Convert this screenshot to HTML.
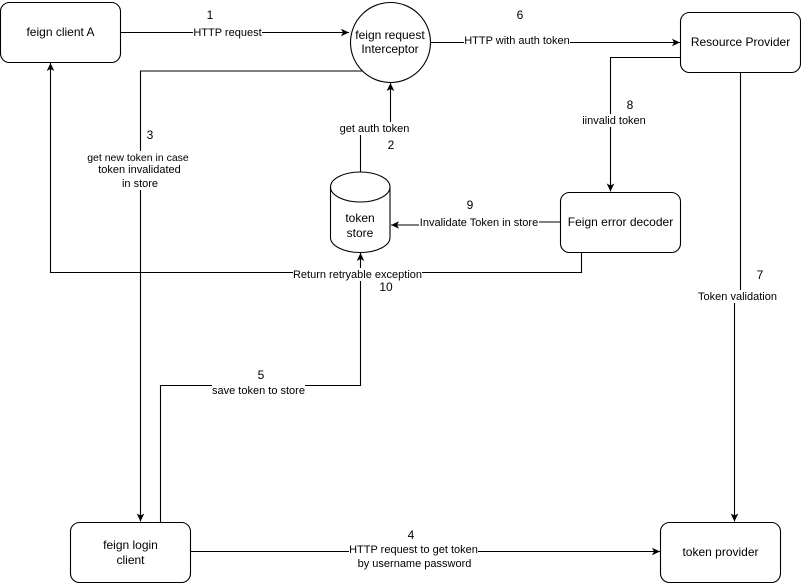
<!DOCTYPE html>
<html>
<head>
<meta charset="utf-8">
<style>
html,body{margin:0;padding:0;background:#fff;}
svg{display:block;}
text{font-family:"Liberation Sans",Arial,sans-serif;fill:#000;}
.n{font-size:12px;text-anchor:middle;}
.l{font-size:11px;text-anchor:middle;}
.b{font-size:12px;text-anchor:middle;}
.bg{fill:#fff;}
</style>
</head>
<body>
<svg width="801" height="583" viewBox="0 0 801 583" xmlns="http://www.w3.org/2000/svg">
<defs>
<marker id="a" markerUnits="userSpaceOnUse" markerWidth="10" markerHeight="10" refX="8" refY="4" orient="auto">
<path d="M0,0.200 L8,4 L0,7.800 L2,4 Z" fill="#000"/>
</marker>
</defs>
<g fill="none" stroke="#000" stroke-width="1.1">
<path d="M120.500 32.500 H349" marker-end="url(#a)"/>
<path d="M430 42.500 H680" marker-end="url(#a)"/>
<path d="M360.500 172 V128 H390.500 V83" marker-end="url(#a)"/>
<path d="M362 71 H140.500 V521.500" marker-end="url(#a)"/>
<path d="M680 57.500 H610.500 V191.500" marker-end="url(#a)"/>
<path d="M560 222 H480 V225 H391" marker-end="url(#a)"/>
<path d="M581.500 252 V272.500 H50.500 V63" marker-end="url(#a)"/>
<path d="M160.500 522 V385.500 H360.500 V253" marker-end="url(#a)"/>
<path d="M190 551.500 H660" marker-end="url(#a)"/>
<path d="M740.500 72 V296 H734.500 V521.500" marker-end="url(#a)"/>
</g>
<g fill="#fff" stroke="#000" stroke-width="1.1">
<rect x="0.500" y="2.500" width="120" height="60" rx="9"/>
<circle cx="390.500" cy="42.500" r="40"/>
<rect x="680.500" y="12.500" width="120" height="60" rx="9"/>
<rect x="560.500" y="192.500" width="120" height="60" rx="9"/>
<rect x="70.500" y="522.500" width="120" height="60" rx="9"/>
<rect x="660.500" y="522.500" width="120" height="60" rx="9"/>
<path d="M330.500 187 A29.750 15 0 0 1 390 187 V237.500 A29.750 15 0 0 1 330.500 237.500 Z"/>
<path d="M330.500 187 A29.750 15 0 0 0 390 187" fill="none"/>
</g>
<text class="b" x="60.500" y="36">feign client A</text>
<text class="b" x="390" y="39">feign request</text>
<text class="b" x="390" y="53">Interceptor</text>
<text class="b" x="740.500" y="46">Resource Provider</text>
<text class="b" x="620.500" y="226">Feign error decoder</text>
<text class="b" x="360" y="222">token</text>
<text class="b" x="360" y="237">store</text>
<text class="b" x="130.500" y="549">feign login</text>
<text class="b" x="130.500" y="564">client</text>
<text class="b" x="720.500" y="556">token provider</text>
<g>
<rect class="bg" x="193" y="26" width="69" height="13"/>
<rect class="bg" x="464" y="35" width="106" height="13"/>
<rect class="bg" x="339" y="122" width="71" height="13"/>
<rect class="bg" x="86" y="151" width="104" height="39"/>
<rect class="bg" x="581" y="114" width="66" height="13"/>
<rect class="bg" x="419" y="216" width="120" height="13"/>
<rect class="bg" x="293" y="268" width="129" height="13"/>
<rect class="bg" x="212" y="384" width="93" height="13"/>
<rect class="bg" x="349" y="543" width="129" height="27"/>
<rect class="bg" x="698" y="290" width="79" height="13"/>
</g>
<text class="l" x="227.500" y="36">HTTP request</text>
<text class="l" x="517" y="44">HTTP with auth token</text>
<text class="l" x="374.500" y="132">get auth token</text>
<text class="l" x="138" y="161" style="font-size:10.500px">get new token in case</text>
<text class="l" x="139.500" y="173">token invalidated</text>
<text class="l" x="140" y="187">in store</text>
<text class="l" x="614" y="124">iinvalid token</text>
<text class="l" x="479" y="226">Invalidate Token in store</text>
<text class="l" x="357.500" y="278">Return retryable exception</text>
<text class="l" x="258.500" y="394">save token to store</text>
<text class="l" x="413.500" y="553">HTTP request to get token</text>
<text class="l" x="414.500" y="567">by username password</text>
<text class="l" x="737.500" y="300">Token validation</text>
<text class="n" x="210" y="19">1</text>
<text class="n" x="391" y="149">2</text>
<text class="n" x="150" y="139">3</text>
<text class="n" x="411" y="539">4</text>
<text class="n" x="261" y="379">5</text>
<text class="n" x="520" y="19">6</text>
<text class="n" x="760" y="279">7</text>
<text class="n" x="630" y="109">8</text>
<text class="n" x="470" y="209">9</text>
<text class="n" x="386" y="291">10</text>
</svg>
</body>
</html>
